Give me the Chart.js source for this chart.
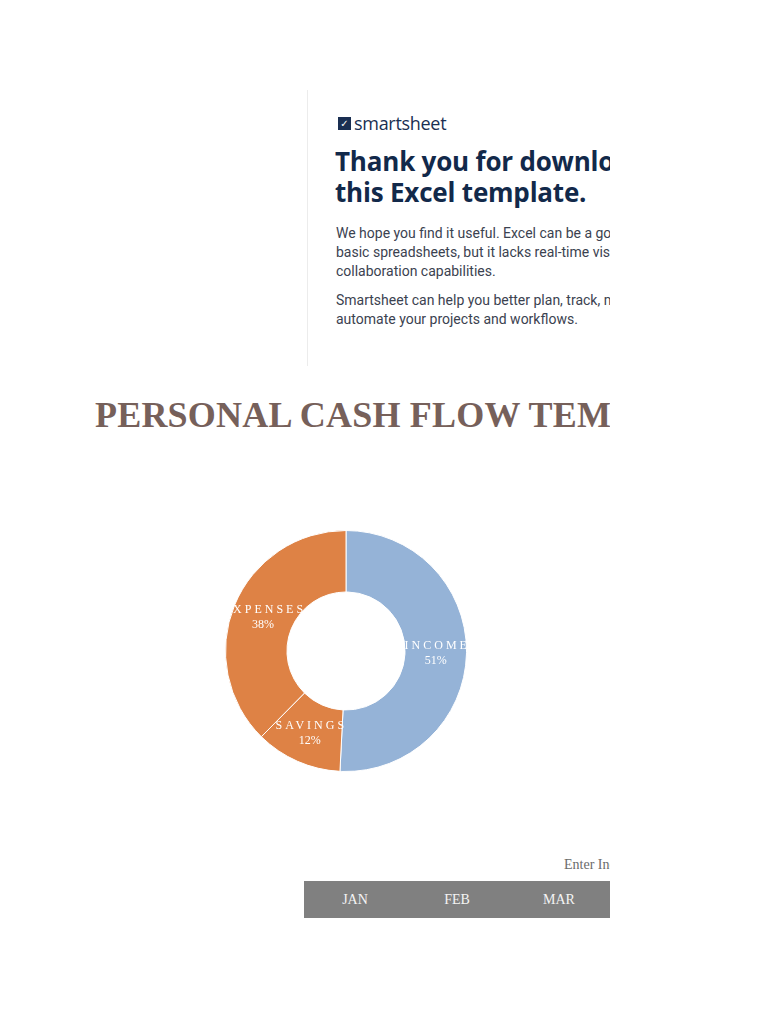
<!DOCTYPE html>
<html>
<head>
<meta charset="utf-8">
<script src="https://cdn.jsdelivr.net/npm/chart.js@4"></script>
<style>
  body { margin: 0; background: #fff; }
  .page { position: absolute; left: 0; top: 0; width: 610px; height: 1024px; overflow: hidden; }
  .banner { position: absolute; left: 307px; top: 90px; width: 400px; height: 276px; border-left: 1px solid #ececec; }
  .logo { position: absolute; left: 30px; top: 27px; width: 13px; height: 13px; background: #1a2f52; color: #fff; font: bold 10px "DejaVu Sans", sans-serif; line-height: 13px; text-align: center; }
  .brand { position: absolute; left: 46px; top: 21px; font: 18px "Open Sans", sans-serif; color: #1a2f52; letter-spacing: -0.3px; }
  .thanks { position: absolute; left: 27px; top: 56px; font: bold 26px "Open Sans", sans-serif; line-height: 31px; color: #12294a; white-space: nowrap; letter-spacing: -0.2px; }
  .body { position: absolute; left: 28px; font: 14px Roboto, sans-serif; line-height: 19px; color: #3b4250; white-space: nowrap; }
  .title { position: absolute; left: 95px; top: 394px; font: bold 36px "Liberation Serif", serif; color: #76605a; white-space: nowrap; letter-spacing: 0.2px; }
  .chart { position: absolute; left: 196px; top: 530px; width: 300px; height: 242px; }
  .enter { position: absolute; left: 564px; top: 857px; font: 14px "Liberation Serif", serif; color: #6b6b6b; white-space: nowrap; }
  .head { position: absolute; left: 304px; top: 881px; width: 408px; height: 37px; background: #808080; }
  .head span { position: absolute; top: 0; width: 102px; font: 14px "Liberation Serif", serif; line-height: 37px; text-align: center; color: #f4f4f4; }
</style>
</head>
<body>
<div class="page">
  <div class="banner">
    <div class="logo">✓</div>
    <div class="brand">smartsheet</div>
    <div class="thanks">Thank you for downloading<br>this Excel template.</div>
    <div class="body" style="top:134px">We hope you find it useful. Excel can be a good tool for<br>basic spreadsheets, but it lacks real-time visibility and<br>collaboration capabilities.</div>
    <div class="body" style="top:201px">Smartsheet can help you better plan, track, manage, and<br>automate your projects and workflows.</div>
  </div>
  <div class="title">PERSONAL CASH FLOW TEMPLATE</div>
  <div class="chart"><canvas id="cashChart"></canvas></div>
  <div class="enter">Enter Income</div>
  <div class="head" id="head"></div>
</div>
<script>
const categories = ['INCOME', 'SAVINGS', 'EXPENSES'];
const shares = [50.8, 11.6, 37.6];
const months = ['JAN', 'FEB', 'MAR', 'APR'];
const sliceColors = ['#95b3d7', '#de8245', '#de8245'];

const head = document.getElementById('head');
months.forEach((m, i) => {
  const s = document.createElement('span');
  s.textContent = m;
  s.style.left = (i * 102) + 'px';
  head.appendChild(s);
});

const total = shares.reduce((a, b) => a + b, 0);

// labels sit in the middle of each ring slice, name over percent
const sliceLabels = {
  id: 'sliceLabels',
  afterDatasetsDraw(chart) {
    const ctx = chart.ctx;
    const meta = chart.getDatasetMeta(0);
    ctx.save();
    ctx.beginPath();
    ctx.rect(36, 0, chart.width, chart.height);
    ctx.clip();
    ctx.fillStyle = '#ffffff';
    ctx.textAlign = 'center';
    ctx.textBaseline = 'middle';
    meta.data.forEach((arc, i) => {
      const p = arc.getProps(['x', 'y', 'startAngle', 'endAngle', 'innerRadius', 'outerRadius'], true);
      const mid = (p.startAngle + p.endAngle) / 2;
      const r = (p.innerRadius + p.outerRadius) / 2;
      const x = p.x + Math.cos(mid) * r;
      const y = p.y + Math.sin(mid) * r;
      ctx.font = '12px "Liberation Serif", serif';
      ctx.letterSpacing = '3px';
      ctx.fillText(categories[i], x + 1.5, y - 7);
      ctx.letterSpacing = '0px';
      ctx.fillText(Math.round(shares[i] / total * 100) + '%', x, y + 8);
    });
    ctx.restore();
  }
};

new Chart(document.getElementById('cashChart'), {
  type: 'doughnut',
  data: {
    labels: categories,
    datasets: [{
      data: shares,
      backgroundColor: sliceColors,
      borderColor: '#ffffff',
      borderWidth: 1
    }]
  },
  options: {
    responsive: true,
    maintainAspectRatio: false,
    animation: false,
    cutout: '49%',
    layout: { padding: 0 },
    plugins: { legend: { display: false }, tooltip: { enabled: false } }
  },
  plugins: [sliceLabels]
});
</script>
</body>
</html>
